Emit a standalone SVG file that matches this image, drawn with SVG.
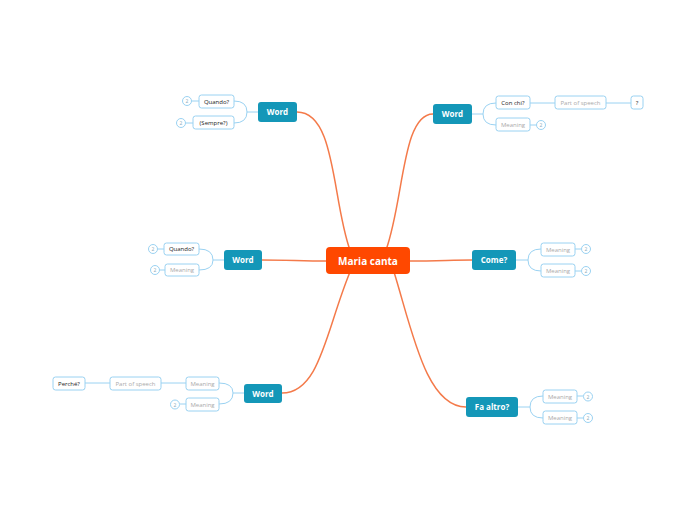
<svg xmlns="http://www.w3.org/2000/svg" width="697" height="520" viewBox="0 0 697 520">
<style>
.main rect{fill:#1497b8;}
.main text{fill:#fff;font:bold 8px "Open Sans","DejaVu Sans",sans-serif;text-anchor:middle;}
.center rect{fill:#ff4800;}
.center text{fill:#fff;font:bold 10px "Open Sans","DejaVu Sans",sans-serif;text-anchor:middle;}
.sub rect{fill:#fff;stroke:#9ad2f2;stroke-width:1;}
.sub text{font:6px "Open Sans","DejaVu Sans",sans-serif;text-anchor:middle;fill:#222;}
.sub.g text{fill:#aaa;}
.cnt circle{fill:#fff;stroke:#9ad2f2;stroke-width:1;}
.cnt text{font:5px "Open Sans","DejaVu Sans",sans-serif;text-anchor:middle;fill:#8ab;}
.big{fill:none;stroke:#f47a4a;stroke-width:1.5;}
.thin{fill:none;stroke:#9ad2f2;stroke-width:1;}
</style>
<rect width="697" height="520" fill="#fff"/>
<g id="connectors">
<path class="big" d="M350 250 C332 200 336 112 297 112"/>
<path class="big" d="M386 250 C404 200 402 114 433 114"/>
<path class="big" d="M328 261 C300 261 290 260 262 260"/>
<path class="big" d="M408 261 C440 261 450 260 472 260"/>
<path class="big" d="M350 272 C326 330 320 393 282 393"/>
<path class="big" d="M394 272 C412 330 426 407 466 407"/>
<path class="thin" d="M258 112 H247 M234 101 Q247 101 247 112 Q247 123 234 123 M199 101 H192 M193 123 H186"/>
<path class="thin" d="M472 114 H483 M496 103 Q483 103 483 114 Q483 125 496 125 M530 103 H555 M606 103 H631 M530 125 H536"/>
<path class="thin" d="M224 260 H213 M199 249 Q213 249 213 260 Q213 270 199 270 M164 249 H158 M165 270 H160"/>
<path class="thin" d="M516 260 H528 M541 249 Q528 249 528 260 Q528 271 541 271 M575 249 H581 M575 271 H581"/>
<path class="thin" d="M244 393 H233 M219 383 Q233 383 233 393 Q233 404 219 404 M186 383 H161 M110 383 H85 M186 404 H180"/>
<path class="thin" d="M466 407 H530 M543 396 Q530 396 530 407 Q530 418 543 418 M577 396 H583 M577 418 H583"/>
</g>
<g id="center" class="center"><rect x="326" y="247" width="84" height="27" rx="4"/><text x="368" y="265">Maria canta</text></g>
<g id="word1" class="main"><rect x="258" y="102" width="39" height="20" rx="3"/><text x="277.5" y="115">Word</text></g>
<g id="w1a" class="sub"><rect x="199" y="95" width="35" height="13" rx="2.5"/><text x="216.5" y="103.5">Quando?</text></g>
<g id="w1a2" class="cnt"><circle cx="187" cy="101" r="4.5"/><text x="187" y="103">2</text></g>
<g id="w1b" class="sub"><rect x="193" y="116" width="41" height="13" rx="2.5"/><text x="213.5" y="124.5">(Sempre?)</text></g>
<g id="w1b2" class="cnt"><circle cx="181" cy="123" r="4.5"/><text x="181" y="125">2</text></g>
<g id="word2" class="main"><rect x="433" y="104" width="39" height="20" rx="3"/><text x="452.5" y="117">Word</text></g>
<g id="w2a" class="sub"><rect x="496" y="96" width="34" height="13" rx="2.5"/><text x="513" y="104.5">Con chi?</text></g>
<g id="w2b" class="sub g"><rect x="555" y="96" width="51" height="13" rx="2.5"/><text x="580.5" y="104.5">Part of speech</text></g>
<g id="w2c" class="sub"><rect x="631" y="96" width="12" height="13" rx="2.5"/><text x="637" y="104.5">?</text></g>
<g id="w2d" class="sub g"><rect x="496" y="118" width="34" height="13" rx="2.5"/><text x="513" y="126.5">Meaning</text></g>
<g id="w2d2" class="cnt"><circle cx="541" cy="125" r="4.5"/><text x="541" y="127">2</text></g>
<g id="word3" class="main"><rect x="224" y="250" width="38" height="20" rx="3"/><text x="243" y="263">Word</text></g>
<g id="w3a" class="sub"><rect x="164" y="243" width="35" height="12" rx="2.5"/><text x="181.5" y="251">Quando?</text></g>
<g id="w3a2" class="cnt"><circle cx="153" cy="249" r="4.5"/><text x="153" y="251">2</text></g>
<g id="w3b" class="sub g"><rect x="165" y="264" width="34" height="12" rx="2.5"/><text x="182" y="272">Meaning</text></g>
<g id="w3b2" class="cnt"><circle cx="155" cy="270" r="4.5"/><text x="155" y="272">2</text></g>
<g id="come" class="main"><rect x="472" y="250" width="44" height="20" rx="3"/><text x="494" y="263">Come?</text></g>
<g id="c1" class="sub g"><rect x="541" y="243" width="34" height="13" rx="2.5"/><text x="558" y="251.5">Meaning</text></g>
<g id="c12" class="cnt"><circle cx="586" cy="249" r="4.5"/><text x="586" y="251">2</text></g>
<g id="c2" class="sub g"><rect x="541" y="264" width="34" height="13" rx="2.5"/><text x="558" y="272.5">Meaning</text></g>
<g id="c22" class="cnt"><circle cx="586" cy="271" r="4.5"/><text x="586" y="273">2</text></g>
<g id="word4" class="main"><rect x="244" y="384" width="38" height="19" rx="3"/><text x="263" y="396.5">Word</text></g>
<g id="w4a" class="sub g"><rect x="186" y="377" width="33" height="13" rx="2.5"/><text x="202.5" y="385.5">Meaning</text></g>
<g id="w4b" class="sub g"><rect x="110" y="377" width="51" height="13" rx="2.5"/><text x="135.5" y="385.5">Part of speech</text></g>
<g id="w4c" class="sub"><rect x="53" y="377" width="32" height="13" rx="2.5"/><text x="69" y="385.5">Perché?</text></g>
<g id="w4d" class="sub g"><rect x="186" y="398" width="33" height="13" rx="2.5"/><text x="202.5" y="406.5">Meaning</text></g>
<g id="w4d2" class="cnt"><circle cx="175" cy="404.5" r="4.5"/><text x="175" y="406.5">2</text></g>
<g id="fa" class="main"><rect x="466" y="397" width="52" height="20" rx="3"/><text x="492" y="410">Fa altro?</text></g>
<g id="f1" class="sub g"><rect x="543" y="390" width="34" height="13" rx="2.5"/><text x="560" y="398.5">Meaning</text></g>
<g id="f12" class="cnt"><circle cx="588" cy="396.5" r="4.5"/><text x="588" y="398.5">2</text></g>
<g id="f2" class="sub g"><rect x="543" y="411" width="34" height="13" rx="2.5"/><text x="560" y="419.5">Meaning</text></g>
<g id="f22" class="cnt"><circle cx="588" cy="418" r="4.5"/><text x="588" y="420">2</text></g>
</svg>
